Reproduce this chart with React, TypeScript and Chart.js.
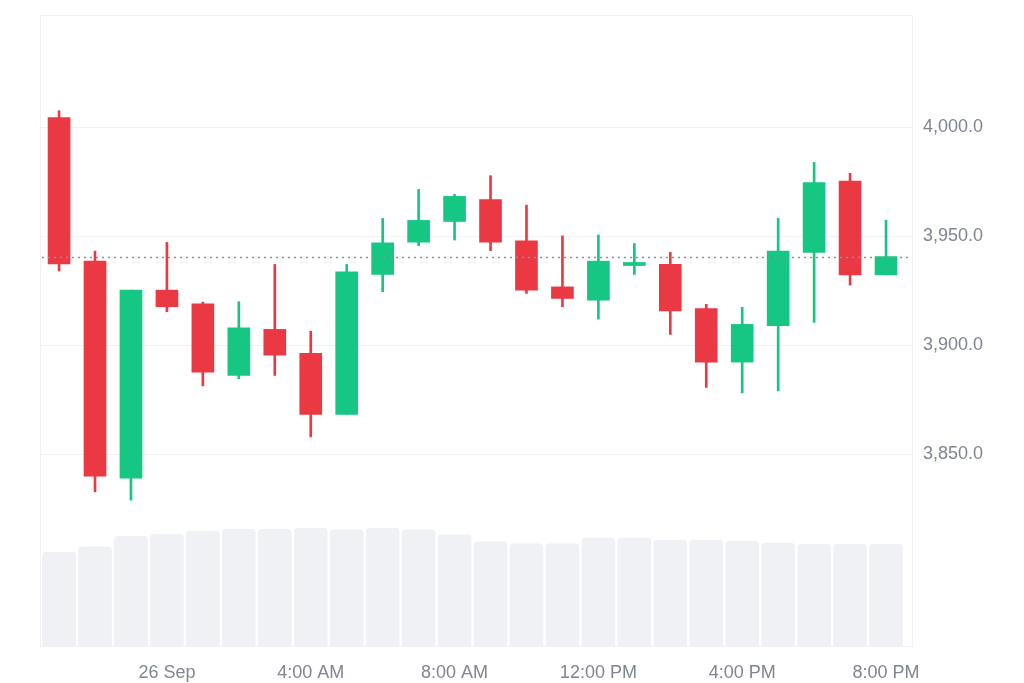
import React, { useEffect, useRef } from "react";
import { Chart, registerables } from "chart.js";

Chart.register(...registerables);

const hours = ["21:00","22:00","23:00","00:00","01:00","02:00","03:00","04:00","05:00","06:00","07:00","08:00","09:00","10:00","11:00","12:00","13:00","14:00","15:00","16:00","17:00","18:00","19:00","20:00"];
const opens = [4004.3, 3938.5, 3839.0, 3925.2, 3918.9, 3886.1, 3907.2, 3896.2, 3868.2, 3932.4, 3947.2, 3956.7, 3966.7, 3947.8, 3926.7, 3920.6, 3936.5, 3937.0, 3916.7, 3892.2, 3908.9, 3942.5, 3975.2, 3932.2];
const highs = [4007.5, 3943.1, 3925.2, 3947.1, 3919.7, 3919.9, 3937.0, 3906.4, 3937.0, 3958.1, 3971.4, 3969.1, 3977.7, 3964.2, 3950.1, 3950.5, 3946.6, 3942.5, 3918.7, 3917.3, 3958.1, 3983.8, 3978.8, 3957.3];
const lows = [3934.0, 3832.7, 3828.9, 3915.3, 3881.3, 3884.6, 3886.1, 3857.9, 3868.2, 3924.5, 3945.6, 3948.2, 3943.3, 3923.7, 3917.6, 3911.9, 3932.4, 3904.9, 3880.6, 3878.1, 3879.0, 3910.4, 3927.5, 3932.2];
const closes = [3937.2, 3839.9, 3925.2, 3917.6, 3887.6, 3907.9, 3895.4, 3868.2, 3933.6, 3946.9, 3957.2, 3968.2, 3947.2, 3925.2, 3921.4, 3938.5, 3937.9, 3915.7, 3892.2, 3909.5, 3943.1, 3974.5, 3932.2, 3940.6];
const volumes = [14.9, 15.7, 17.4, 17.7, 18.2, 18.5, 18.5, 18.7, 18.4, 18.7, 18.4, 17.6, 16.5, 16.2, 16.2, 17.1, 17.1, 16.8, 16.8, 16.6, 16.3, 16.1, 16.1, 16.1];
const xTickLabels: Record<string, string> = {
  "00:00": "26 Sep",
  "04:00": "4:00 AM",
  "08:00": "8:00 AM",
  "12:00": "12:00 PM",
  "16:00": "4:00 PM",
  "20:00": "8:00 PM",
};
const yTickValues = [3850, 3900, 3950, 4000];

const GREEN = "#16c784";
const RED = "#ea3943";
const GRID = "#eff1f4";
const TEXT = "#7f8591";
const FONT = "'Liberation Sans', Arial, sans-serif";

export default function App() {
  const ref = useRef<HTMLCanvasElement>(null);
  useEffect(() => {
    const canvas = ref.current;
    if (!canvas) return;
    const colors = opens.map((o, i) => (closes[i] >= o ? GREEN : RED));
    const lastClose = closes[closes.length - 1];
    const framePlugin = {
      id: "frame",
      beforeDatasetsDraw(chart: any) {
        const { ctx, chartArea } = chart;
        ctx.save();
        ctx.strokeStyle = GRID;
        ctx.lineWidth = 1;
        ctx.strokeRect(chartArea.left + 0.5, chartArea.top + 0.5, chartArea.right - chartArea.left - 1, chartArea.bottom - chartArea.top);
        ctx.restore();
      },
      afterDatasetsDraw(chart: any) {
        const { ctx, chartArea, scales } = chart;
        const y = Math.round(scales.y.getPixelForValue(lastClose)) + 0.5;
        ctx.save();
        ctx.strokeStyle = "#8a909c";
        ctx.lineWidth = 1.5;
        ctx.setLineDash([2, 4]);
        ctx.beginPath();
        ctx.moveTo(chartArea.left + 2, y);
        ctx.lineTo(chartArea.right - 4, y);
        ctx.stroke();
        ctx.restore();
      },
    };
    const chart = new Chart(canvas, {
      type: "bar",
      data: {
        datasets: [
          {
            label: "Bodies",
            data: hours.map((_, i) => ({ x: i, y: [opens[i], closes[i]] })) as any,
            backgroundColor: colors,
            barThickness: 22,
            grouped: false,
            yAxisID: "y",
            order: 1,
          } as any,
          {
            label: "Wicks",
            data: hours.map((_, i) => ({ x: i, y: [lows[i], highs[i]] })) as any,
            backgroundColor: colors,
            barThickness: 2,
            grouped: false,
            yAxisID: "y",
            order: 2,
          } as any,
          {
            label: "Volume",
            data: hours.map((_, i) => ({ x: i, y: volumes[i] })) as any,
            backgroundColor: "#eff1f4",
            barThickness: 33,
            borderRadius: { topLeft: 4, topRight: 4, bottomLeft: 0, bottomRight: 0 },
            borderSkipped: false,
            grouped: false,
            yAxisID: "v",
            order: 3,
          } as any,
        ],
      },
      options: {
        animation: false,
        responsive: false,
        maintainAspectRatio: false,
        layout: { padding: { left: 40, top: 15, right: 0, bottom: 0 } },
        plugins: { legend: { display: false }, tooltip: { enabled: false } },
        scales: {
          x: {
            type: "linear",
            offset: false,
            min: -0.53,
            max: 23.75,
            grid: { display: false },
            border: { display: false },
            afterBuildTicks: (scale: any) => {
              scale.ticks = hours
                .map((h, i) => (xTickLabels[h] ? { value: i } : null))
                .filter(Boolean);
            },
            afterFit: (scale: any) => {
              scale.height = 37;
              scale.paddingLeft = 0;
              scale.paddingRight = 0;
            },
            ticks: {
              autoSkip: false,
              maxRotation: 0,
              padding: 8,
              color: TEXT,
              font: { family: FONT, size: 18 },
              callback: (v: any) => xTickLabels[hours[v]] ?? "",
            },
          },
          y: {
            position: "right",
            min: 3762,
            max: 4051.4,
            grid: { color: GRID, drawTicks: false },
            border: { display: false },
            afterBuildTicks: (scale: any) => {
              scale.ticks = yTickValues.map((v) => ({ value: v }));
            },
            afterFit: (scale: any) => {
              scale.width = 111;
              scale.paddingTop = 0;
              scale.paddingBottom = 0;
            },
            ticks: {
              padding: 10,
              color: TEXT,
              font: { family: FONT, size: 18 },
              callback: (v: any) =>
                Number(v).toLocaleString("en-US", { minimumFractionDigits: 1, maximumFractionDigits: 1 }),
            },
          },
          v: {
            display: false,
            min: 0,
            max: 100,
          },
        },
      } as any,
      plugins: [framePlugin],
    });
    return () => chart.destroy();
  }, []);
  return (
    <div style={{ position: "fixed", left: 0, top: 0, width: 1024, height: 683, background: "#fff" }}>
      <canvas ref={ref} width={1024} height={683} style={{ display: "block", width: 1024, height: 683 }} />
    </div>
  );
}
